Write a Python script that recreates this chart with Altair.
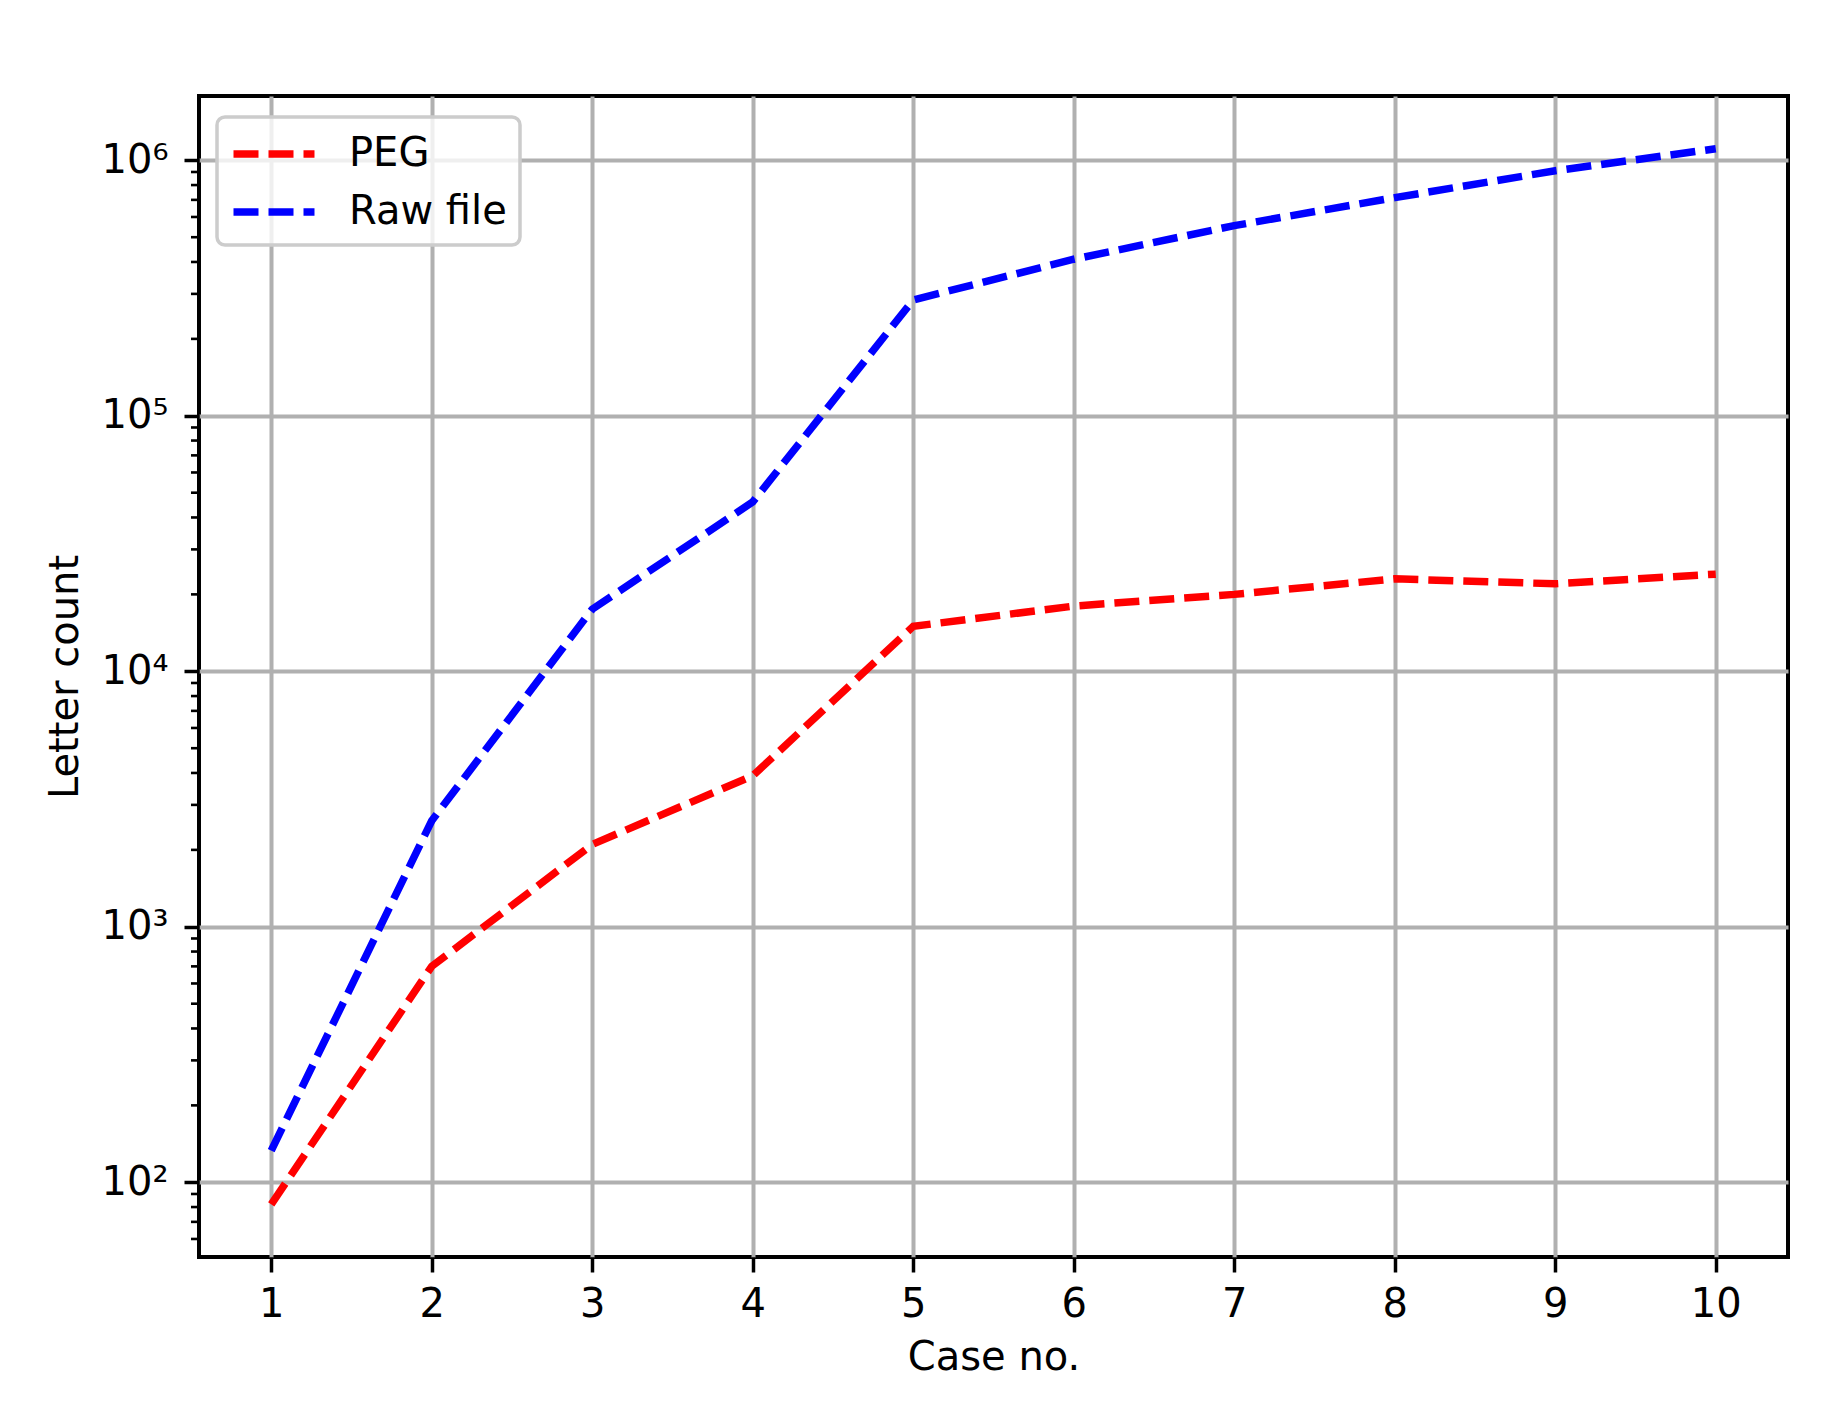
import altair as alt
import pandas as pd

cases = list(range(1, 11))
peg = [82, 700, 2100, 3900, 15000, 18000, 20000, 23000, 22000, 24000]
raw = [133, 2600, 17500, 46000, 284000, 410000, 555000, 714000, 910000, 1110000]
series_names = ["PEG", "Raw file"]
series_colors = ["#ff0000", "#0000ff"]
major_y = [100, 1000, 10000, 100000, 1000000]

y_domain = [51.0, 1.785e6]
x_domain = [0.55, 10.45]

minor_y = [m * 10 ** k for k in range(1, 7) for m in range(2, 10)
           if y_domain[0] <= m * 10 ** k <= y_domain[1]]

df = pd.DataFrame({
    "case": cases * 2,
    "count": peg + raw,
    "series": [series_names[0]] * len(cases) + [series_names[1]] * len(cases),
})
minor_df = pd.DataFrame({"v": minor_y})

FONT = "DejaVu Sans"

xscale = alt.Scale(domain=x_domain, nice=False, zero=False)
yscale = alt.Scale(type="log", domain=y_domain, nice=False, zero=False)

lines = alt.Chart(df).mark_line(
    strokeWidth=7.5, strokeDash=[25, 10], strokeCap="butt"
).encode(
    x=alt.X("case:Q", scale=xscale, title="Case no.",
            axis=alt.Axis(values=cases, format="d", grid=True, gridColor="#b0b0b0",
                          gridWidth=4, domain=False, tickColor="black", tickWidth=3.5,
                          tickSize=15, labelPadding=12, labelFontSize=40,
                          labelFont=FONT, labelColor="black", titleFont=FONT,
                          titleFontSize=40, titleFontWeight="normal",
                          titleColor="black", titlePadding=13)),
    y=alt.Y("count:Q", scale=yscale, title="Letter count",
            axis=alt.Axis(values=major_y, grid=True, gridColor="#b0b0b0",
                          gridWidth=4, domain=False, tickColor="black", tickWidth=3.5,
                          tickSize=15, labelPadding=16, labelFontSize=40,
                          labelFont=FONT, labelColor="black",
                          labelExpr="'10' + ['⁰','¹','²','³','⁴','⁵','⁶'][round(log(datum.value)/LN10)]",
                          titleFont=FONT, titleFontSize=40, titleFontWeight="normal",
                          titleColor="black", titlePadding=16)),
    color=alt.Color("series:N", sort=series_names,
                    scale=alt.Scale(domain=series_names, range=series_colors),
                    legend=alt.Legend(title=None, orient="none", legendX=18, legendY=21,
                                      fillColor="rgba(255,255,255,0.8)",
                                      strokeColor="#cccccc", cornerRadius=8,
                                      padding=13, labelFontSize=40, labelFont=FONT,
                                      labelColor="black", symbolType="M-2,0H2",
                                      symbolSize=1640, symbolStrokeWidth=7.5,
                                      symbolDash=[25, 10], symbolOffset=20,
                                      labelOffset=51, rowPadding=14)),
)

minor = alt.Chart(minor_df).mark_rule(color="black", strokeWidth=2.6).encode(
    y=alt.Y("v:Q", scale=yscale),
    x=alt.value(-8),
    x2=alt.value(0),
)

chart = alt.layer(minor, lines).properties(
    width=1589, height=1161,
    padding={"left": 37, "top": 88, "right": 20, "bottom": 20},
).configure(
    background="white"
).configure_view(
    stroke="black", strokeWidth=4
).configure_legend(
    strokeWidth=3.5
)

chart.save("out.html", embed_options={"renderer": "svg", "actions": False})
